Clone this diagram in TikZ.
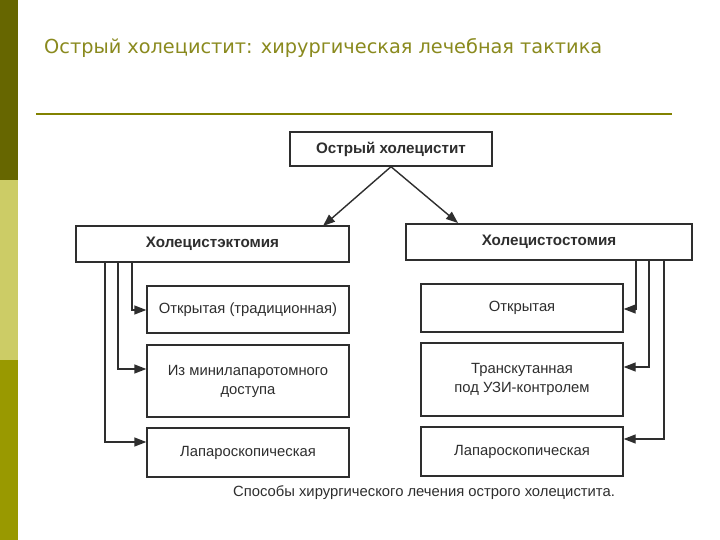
\documentclass[tikz,border=0pt]{standalone}
\usepackage{fontspec}
\setmainfont{Liberation Sans}
\newfontfamily\titlefont{DejaVu Sans}
\usetikzlibrary{arrows.meta}
\definecolor{olivedark}{HTML}{666600}
\definecolor{olivelight}{HTML}{CCCC66}
\definecolor{olivemid}{HTML}{999900}
\definecolor{titlecol}{HTML}{8A8A1E}
\definecolor{ink}{HTML}{2E2E2E}
\tikzset{
  box/.style={draw=ink, line width=1.4pt, fill=white, text=ink, align=center, inner sep=0pt, font=\fontsize{14.8}{19}\selectfont},
  headbox/.style={box, font=\fontsize{15.2}{18}\selectfont\bfseries},
  conn/.style={draw=ink, line width=1.4pt, -{Triangle[length=12pt,width=9pt]}},
}
\begin{document}
\begin{tikzpicture}[x=1pt,y=-1pt]
\useasboundingbox (0,0) rectangle (720,540);
\fill[white] (0,0) rectangle (720,540);
% left bar
\fill[olivedark] (0,0) rectangle (18,180);
\fill[olivelight] (0,180) rectangle (18,360);
\fill[olivemid] (0,360) rectangle (18,540);
% title
\node[anchor=west, text=titlecol, font=\titlefont\fontsize{19.3}{22}\selectfont, inner sep=0pt] (title) at (44,48) {Острый холецистит: хирургическая лечебная тактика};
\draw[olivemid!85!black, line width=2pt] (36,114) -- (672,114);
% nodes
\node[headbox, minimum width=202pt, minimum height=34pt] (top) at (391,149) {Острый холецистит};
\node[headbox, minimum width=273pt, minimum height=36pt] (L) at (212.5,244) {Холецистэктомия};
\node[headbox, minimum width=286pt, minimum height=36pt] (R) at (549,242) {Холецистостомия};
\node[box, minimum width=202pt, minimum height=47pt] (L1) at (248,309.5) {Открытая (традиционная)};
\node[box, minimum width=202pt, minimum height=72pt] (L2) at (248,381) {Из минилапаротомного\\доступа};
\node[box, minimum width=202pt, minimum height=49pt] (L3) at (248,452.5) {Лапароскопическая};
\node[box, minimum width=202pt, minimum height=48pt] (R1) at (522,308) {Открытая};
\node[box, minimum width=202pt, minimum height=73pt] (R2) at (522,379.5) {Транскутанная\\под УЗИ-контролем};
\node[box, minimum width=202pt, minimum height=49pt] (R3) at (522,451.5) {Лапароскопическая};
\node[text=ink, font=\fontsize{14.8}{18}\selectfont, inner sep=0pt] (cap) at (424,493) {Способы хирургического лечения острого холецистита.};
% connectors
\draw[conn] (top.south) -- (323,226);
\draw[conn] (top.south) -- (458,223);
\draw[conn] (L.south -| 132,0) |- (L1.west |- 0,310);
\draw[conn] (L.south -| 118,0) |- (L2.west |- 0,369);
\draw[conn] (L.south -| 105,0) |- (L3.west |- 0,442);
\draw[conn] (R.south -| 636,0) |- (R1.east |- 0,309);
\draw[conn] (R.south -| 649,0) |- (R2.east |- 0,367);
\draw[conn] (R.south -| 664,0) |- (R3.east |- 0,439);
\end{tikzpicture}
\end{document}
